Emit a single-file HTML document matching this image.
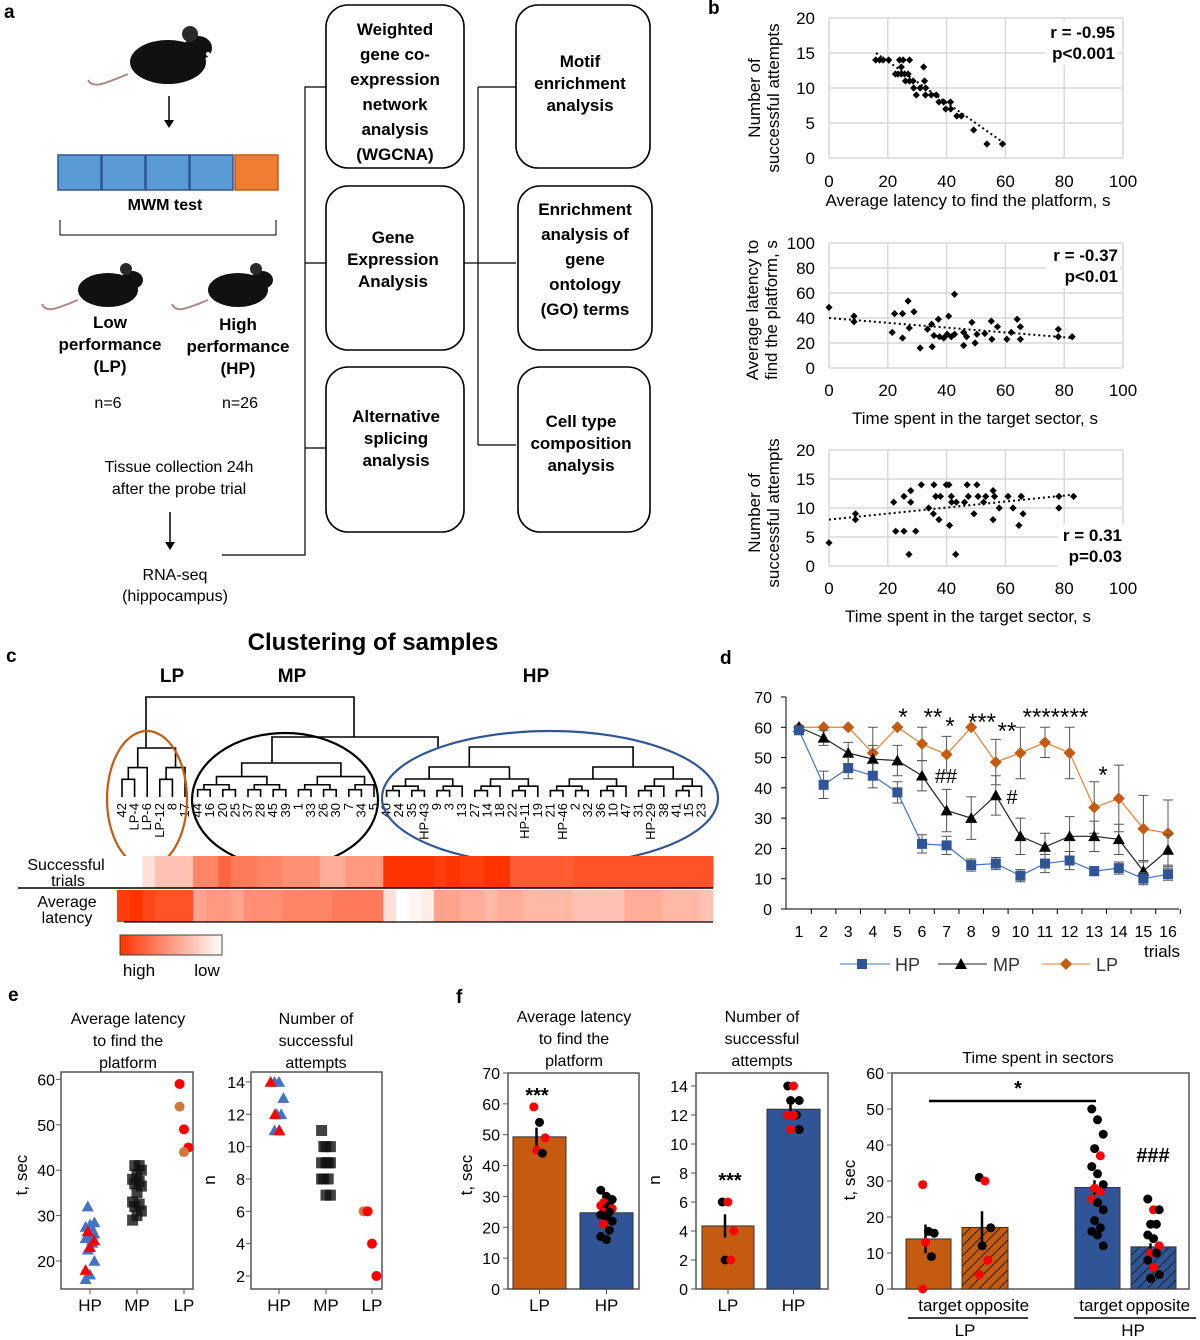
<!DOCTYPE html>
<html><head><meta charset="utf-8"><title>Figure</title>
<style>
html,body{margin:0;padding:0;background:#fff;}
svg{display:block;font-family:"Liberation Sans",Arial,sans-serif;}
.bx{fill:#fff;stroke:#000;stroke-width:1.6;}
.bt{font-size:17px;font-weight:bold;text-anchor:middle;}
.t16{font-size:16px;}
.t17{font-size:17px;}
.lbl{font-size:19px;font-weight:bold;}
</style></head>
<body>
<svg id="fig" width="1200" height="1340" viewBox="0 0 1200 1340" xmlns="http://www.w3.org/2000/svg">
<defs>
<pattern id="hatchO" patternUnits="userSpaceOnUse" width="7" height="7" patternTransform="rotate(45)"><rect width="7" height="7" fill="#c55a11"/><line x1="0" y1="0" x2="0" y2="7" stroke="#222" stroke-width="2"/></pattern>
<pattern id="hatchB" patternUnits="userSpaceOnUse" width="7" height="7" patternTransform="rotate(45)"><rect width="7" height="7" fill="#2f5597"/><line x1="0" y1="0" x2="0" y2="7" stroke="#222" stroke-width="2"/></pattern>
<linearGradient id="hm" x1="0" x2="1"><stop offset="0" stop-color="#ff3300"/><stop offset="1" stop-color="#ffffff"/></linearGradient>
</defs>

<!-- panel labels -->
<text x="4" y="18" class="lbl">a</text>
<text x="708" y="14" class="lbl">b</text>
<text x="6" y="662" class="lbl">c</text>
<text x="720" y="664" class="lbl">d</text>
<text x="8" y="1001" class="lbl">e</text>
<text x="456" y="1003" class="lbl">f</text>

<!-- panel a -->
<g transform="translate(168,62)">
<path d="M-40,12 C-60,20 -75,28 -80,18" fill="none" stroke="#b08a8a" stroke-width="2"/>
<ellipse cx="0" cy="0" rx="38" ry="22" fill="#111"/><ellipse cx="30" cy="-14" rx="14" ry="12" fill="#111"/><circle cx="22" cy="-28" r="8" fill="#2a2a2a"/><circle cx="40" cy="-8" r="2" fill="#fff"/>
</g>
<line x1="169" y1="96" x2="169" y2="124" stroke="#000" stroke-width="1.5"/>
<path d="M164,120 L169,128 L174,120 Z" fill="#000"/>
<g stroke="#2f5597" stroke-width="1.5">
<rect x="58" y="155" width="43" height="35" fill="#5b9bd5"/><rect x="102" y="155" width="43" height="35" fill="#5b9bd5"/><rect x="146" y="155" width="43" height="35" fill="#5b9bd5"/><rect x="190" y="155" width="43" height="35" fill="#5b9bd5"/><rect x="235" y="155" width="43" height="35" fill="#ed7d31" stroke="#c55a11"/>
</g>
<text x="165" y="210" class="t16" font-weight="bold" text-anchor="middle">MWM test</text>
<path d="M60,220 L60,235 L276,235 L276,220" fill="none" stroke="#000" stroke-width="1"/>
<g transform="translate(108,290)">
<path d="M-30,10 C-50,18 -62,24 -66,14" fill="none" stroke="#b08a8a" stroke-width="2"/>
<ellipse cx="0" cy="0" rx="30" ry="17" fill="#111"/><ellipse cx="24" cy="-10" rx="11" ry="9" fill="#111"/><circle cx="18" cy="-21" r="6" fill="#2a2a2a"/></g>
<g transform="translate(238,290)">
<path d="M-30,10 C-50,18 -62,24 -66,14" fill="none" stroke="#b08a8a" stroke-width="2"/>
<ellipse cx="0" cy="0" rx="30" ry="17" fill="#111"/><ellipse cx="24" cy="-10" rx="11" ry="9" fill="#111"/><circle cx="18" cy="-21" r="6" fill="#2a2a2a"/></g>
<g class="bt"><text x="110" y="328">Low</text><text x="110" y="350">performance</text><text x="110" y="372">(LP)</text></g>
<g class="bt"><text x="238" y="330">High</text><text x="238" y="352">performance</text><text x="238" y="374">(HP)</text></g>
<text x="108" y="408" class="t16" text-anchor="middle">n=6</text>
<text x="240" y="408" class="t16" text-anchor="middle">n=26</text>
<g class="t16" text-anchor="middle"><text x="179" y="472">Tissue collection 24h</text><text x="179" y="494">after the probe trial</text></g>
<line x1="170" y1="512" x2="170" y2="544" stroke="#000" stroke-width="1.5"/><path d="M165,542 L170,550 L175,542 Z" fill="#000"/>
<g class="t16" text-anchor="middle"><text x="175" y="580">RNA-seq</text><text x="175" y="601">(hippocampus)</text></g>
<g fill="none" stroke="#000" stroke-width="1.2">
<path d="M222,555 L305,555 L305,87 L326,87 M305,263 L326,263 M305,448 L326,448"/>
<path d="M464,263 L478,263 M478,87 L478,445 M478,87 L516,87 M478,263 L516,263 M478,445 L516,445"/>
</g>
<rect class="bx" x="326" y="5" width="138" height="163" rx="22"/>
<g class="bt"><text x="395" y="35">Weighted</text><text x="395" y="60">gene co-</text><text x="395" y="85">expression</text><text x="395" y="110">network</text><text x="395" y="135">analysis</text><text x="395" y="160">(WGCNA)</text></g>
<rect class="bx" x="326" y="186" width="138" height="164" rx="22"/>
<g class="bt"><text x="393" y="243">Gene</text><text x="393" y="265">Expression</text><text x="393" y="287">Analysis</text></g>
<rect class="bx" x="326" y="367" width="138" height="165" rx="22"/>
<g class="bt"><text x="396" y="422">Alternative</text><text x="396" y="444">splicing</text><text x="396" y="466">analysis</text></g>
<rect class="bx" x="516" y="5" width="134" height="163" rx="22"/>
<g class="bt"><text x="580" y="67">Motif</text><text x="580" y="89">enrichment</text><text x="580" y="111">analysis</text></g>
<rect class="bx" x="518" y="186" width="134" height="164" rx="22"/>
<g class="bt"><text x="585" y="215">Enrichment</text><text x="585" y="240">analysis of</text><text x="585" y="265">gene</text><text x="585" y="290">ontology</text><text x="585" y="315">(GO) terms</text></g>
<rect class="bx" x="518" y="367" width="132" height="165" rx="22"/>
<g class="bt"><text x="581" y="427">Cell type</text><text x="581" y="449">composition</text><text x="581" y="471">analysis</text></g>

<!-- panel b static text -->
<g class="t17" text-anchor="middle"><text transform="translate(760,98) rotate(-90)">Number of</text><text transform="translate(779,98) rotate(-90)">successful attempts</text></g>
<text x="968" y="206" class="t17" text-anchor="middle">Average latency to find the platform, s</text>
<g class="t17" text-anchor="middle"><text transform="translate(758,310) rotate(-90)">Average latency to</text><text transform="translate(777,310) rotate(-90)">find the platform, s</text></g>
<text x="975" y="424" class="t17" text-anchor="middle">Time spent in the target sector, s</text>
<g class="t17" text-anchor="middle"><text transform="translate(760,513) rotate(-90)">Number of</text><text transform="translate(779,513) rotate(-90)">successful attempts</text></g>
<text x="968" y="622" class="t17" text-anchor="middle">Time spent in the target sector, s</text>

<!-- panel c static -->
<text x="373" y="650" font-size="24" font-weight="bold" text-anchor="middle">Clustering of samples</text>
<text x="172" y="682" font-size="19" font-weight="bold" text-anchor="middle">LP</text>
<text x="292" y="682" font-size="19" font-weight="bold" text-anchor="middle">MP</text>
<text x="536" y="682" font-size="19" font-weight="bold" text-anchor="middle">HP</text>
<g id="dendro"></g>
<ellipse cx="147" cy="799" rx="40" ry="68" fill="none" stroke="#c55a11" stroke-width="2.2"/>
<ellipse cx="285" cy="800" rx="93" ry="67" fill="none" stroke="#000" stroke-width="2.2"/>
<ellipse cx="550" cy="798" rx="168" ry="67" fill="none" stroke="#2f5597" stroke-width="2.2"/>
<g id="heat"></g>
<g class="t16" text-anchor="middle"><text x="66" y="870">Successful</text><text x="68" y="886">trials</text><text x="67" y="907">Average</text><text x="67" y="923">latency</text></g>
<line x1="18" y1="888" x2="713" y2="888" stroke="#000" stroke-width="1.5"/>
<line x1="124" y1="922" x2="713" y2="922" stroke="#000" stroke-width="1.2"/>
<rect x="120" y="935" width="102" height="20" fill="url(#hm)" stroke="#444"/>
<text x="139" y="976" class="t17" text-anchor="middle">high</text>
<text x="207" y="976" class="t17" text-anchor="middle">low</text>

<!-- panel d static -->
<text x="1162" y="957" class="t17" text-anchor="middle">trials</text>
<g>
<line x1="840" y1="964" x2="890" y2="964" stroke="#4472c4"/><rect x="857" y="959" width="10" height="10" fill="#2f5597"/><text x="895" y="971" font-size="18" fill="#333">HP</text>
<line x1="938" y1="964" x2="987" y2="964" stroke="#222"/><path d="M961,958 L967,969 L955,969 Z" fill="#000"/><text x="993" y="971" font-size="18" fill="#333">MP</text>
<line x1="1042" y1="964" x2="1090" y2="964" stroke="#ed7d31"/><path d="M1066,958 L1072,964 L1066,970 L1060,964 Z" fill="#c55a11"/><text x="1096" y="971" font-size="18" fill="#333">LP</text>
</g>
<g font-size="24">
<text x="903" y="725" text-anchor="middle">*</text><text x="933" y="725" text-anchor="middle">**</text><text x="950" y="734" text-anchor="middle">*</text><text x="982" y="730" text-anchor="middle">***</text><text x="1007" y="739" text-anchor="middle">**</text><text x="1046" y="725" text-anchor="middle">*****</text><text x="1079" y="725" text-anchor="middle">**</text><text x="1103" y="783" text-anchor="middle">*</text>
<text x="946" y="783" text-anchor="middle" font-size="20">##</text><text x="1012" y="804" text-anchor="middle" font-size="20">#</text>
</g>

<!-- panel e/f titles -->
<g class="t16" text-anchor="middle"><text x="128" y="1024">Average latency</text><text x="128" y="1046">to find the</text><text x="128" y="1068">platform</text></g>
<g class="t16" text-anchor="middle"><text x="316" y="1024">Number of</text><text x="316" y="1046">successful</text><text x="316" y="1068">attempts</text></g>
<g class="t16" text-anchor="middle"><text x="574" y="1022">Average latency</text><text x="574" y="1044">to find the</text><text x="574" y="1066">platform</text></g>
<g class="t16" text-anchor="middle"><text x="762" y="1022">Number of</text><text x="762" y="1044">successful</text><text x="762" y="1066">attempts</text></g>
<text x="1038" y="1063" class="t16" text-anchor="middle">Time spent in sectors</text>
<text transform="translate(27,1175) rotate(-90)" class="t17" text-anchor="middle">t, sec</text>
<text transform="translate(215,1180) rotate(-90)" class="t17" text-anchor="middle">n</text>
<text transform="translate(472,1175) rotate(-90)" class="t17" text-anchor="middle">t, sec</text>
<text transform="translate(660,1180) rotate(-90)" class="t17" text-anchor="middle">n</text>
<text transform="translate(855,1180) rotate(-90)" class="t17" text-anchor="middle">t, sec</text>
<g font-size="20" font-weight="bold" text-anchor="middle">
<text x="537" y="1102">***</text><text x="730" y="1187">***</text><text x="1018" y="1095">*</text><text x="1153" y="1162">###</text></g>
<line x1="929" y1="1101" x2="1096" y2="1101" stroke="#000" stroke-width="2.5"/>
<g class="t17" text-anchor="middle">
<text x="940" y="1311">target</text><text x="997" y="1311">opposite</text><text x="1101" y="1311">target</text><text x="1158" y="1311">opposite</text>
<text x="965" y="1336">LP</text><text x="1133" y="1336">HP</text></g>
<line x1="908" y1="1318" x2="1028" y2="1318" stroke="#000" stroke-width="1.5"/>
<line x1="1074" y1="1318" x2="1196" y2="1318" stroke="#000" stroke-width="1.5"/>
</svg>

<script>
// ---------- data ----------
const b1Latency = [15.9,17.2,18.4,20.3,22.6,24,25.2,24.6,23.5,24.6,25.7,26.9,26,27.4,28.6,27.4,28.8,29.7,31,32.2,32.5,32.9,32.8,34.8,36.5,37.4,39,39.7,41.3,41.4,43.5,45,49.2,53.7,59];
const b1Attempts = [14,14,14,14,12,14,14,13,12,12,12,12,11,11,11,14,10,9,10,13,11,10,9,9,9,8,8,7,8,7,6,6,4,2,2];
const b1Trend = [[16,15],[60,2]];
const b2Time = [0,8.5,8.5,21.5,22.3,25,25,26.9,27.3,28.9,31,33.5,34.9,35.1,35.7,37.2,37.6,39,40.7,40.2,41.6,42.7,42.7,45.8,45.8,46.8,48.6,49.7,50.3,53,55.2,55.4,57.3,60.5,62,64,65.1,65.1,78,78,82.7];
const b2Latency = [48.5,41.5,37,28.5,43.5,43.5,24,53.6,32,45,16,31,35,17,26,39,25,24,41.5,27,25,59,27,18,28.5,25,36.5,20,27,27.6,37.5,23,33,23,28.5,39,33,23,31,25,25];
const b2Trend = [[0,40],[83,24]];
const b3Time = [0,9,9,22,22.7,25.5,25.5,27.2,27.8,27.8,29.5,31.4,33.9,35.5,35.7,36.3,37.9,37.4,39.9,40.8,41,41.6,41.7,43.3,43.1,46.1,47,47.4,49.3,50.3,50.7,52.6,53.3,55.8,55.8,56.3,57.9,60.9,62.6,64.6,65.4,66,78.2,78.2,83.2];
const b3Attempts = [4,9,8,11,6,6,12,2,13,11,6,14,10,9,14,12,12,8,14,14,7,12,11,11,2,11,14,12,9,14,12,11,12,13,8,12,10,12,10,7,12,9,12,10,12];
const b3Trend = [[0,8],[83,12.3]];
const bXTicks = [0,20,40,60,80,100];
const b1YTicks = [0,5,10,15,20];
const b2YTicks = [0,20,40,60,80,100];
const b3YTicks = [0,5,10,15,20];
const b1Stats = ["r = -0.95","p<0.001"];
const b2Stats = ["r = -0.37","p<0.01"];
const b3Stats = ["r = 0.31","p=0.03"];

const trials = [1,2,3,4,5,6,7,8,9,10,11,12,13,14,15,16];
const dHP = [59,41,46.5,44,38.5,21.5,21,14.5,15,11,15,16,12.5,13.5,10,11.5];
const dHPerr = [1,4.5,3.5,4,3.5,3,3,2,2,2,3,3,1.5,2,2,2];
const dMP = [60,56.5,51.5,49.5,49,44,32.5,30,37.5,24,20.5,24,24,23,12.5,19.5];
const dMPerr = [0.5,2.5,3.5,4.5,5,5,7,7,6.5,6,4.5,6.5,5,5,3.5,5];
const dLP = [60,60,60,51.5,60,54.5,51,60,48.5,51.5,55,51.5,33.5,36.5,26.5,25];
const dLPerr = [0,0,0,8.5,0,5.5,6,0,7.5,8.5,5,8.5,8.5,11,11,11];
const dYTicks = [0,10,20,30,40,50,60,70];

const leafLabels = ["42","LP-4","LP-6","LP-12","8","17","44","16","20","25","37","28","45","39","1","33","26","30","7","34","5","40","24","35","HP-43","9","3","13","27","14","18","22","HP-11","19","21","HP-46","2","32","36","10","47","31","HP-29","38","41","15","23"];
const heatTrials = [0,0,0.15,0.3,0.3,0.3, 0.6,0.6,0.75,0.65,0.65,0.6,0.6,0.55,0.55,0.55,0.4,0.4,0.5,0.5,0.5, 1,1,1,1,0.95,1,0.95,0.95,1,1,0.8,0.8,0.8,0.8,0.8,0.85,0.85,0.85,0.85,0.85,0.85,0.85,0.85,0.85,0.85,0.85];
const heatLatency = [0.95,1,0.9,0.85,0.85,0.85, 0.45,0.5,0.5,0.45,0.55,0.55,0.55,0.6,0.6,0.6,0.6,0.65,0.65,0.65,0.65, 0.15,0,0.05,0.1,0.45,0.45,0.4,0.4,0.35,0.4,0.4,0.35,0.35,0.35,0.35,0.3,0.3,0.3,0.3,0.4,0.4,0.4,0.35,0.35,0.35,0.3];

const eCats = ["HP","MP","LP"];
const e1HP = [16,17,20,22.5,24,25,25.5,26,26.5,27,27.5,28,28.5,32,24.5];
const e1HPred = [18,23,24.5,26.5];
const e1MP = [29,30,31,32,32.5,33,35,36.5,37,37.5,38,39,40,41,41];
const e1LPred = [59,49,45];
const e1LPorange = [54,44];
const e1YTicks = [20,30,40,50,60];
const e2HP = [14,14,13,12,12,11,11];
const e2HPred = [14,12,11];
const e2MP = [11,10,10,10,9,9,9,9,8,8,8,7,7];
const e2LPred = [6,4,2];
const e2LPorange = [6];
const e2YTicks = [2,4,6,8,10,12,14];

const f1Cats = ["LP","HP"];
const f1Means = [49.3,24.7];
const f1Err = [3,1.2];
const f1LPdots = [59,54,49,45,44];
const f1LPred = [true,false,true,true,false];
const f1HPdots = [32,30,29,28,27,27,26,26,25,25,24,23,22,21,19,17,16];
const f1HPred = [false,false,false,true,false,true,false,true,true,false,false,false,false,true,false,false,false];
const f1YTicks = [0,10,20,30,40,50,60,70];
const f2Means = [4.35,12.4];
const f2Err = [0.8,0.3];
const f2LPdots = [6,6,4,2,2];
const f2LPred = [false,true,true,false,true];
const f2HPdots = [14,14,13,13,12,12,12,11,11];
const f2HPred = [false,true,false,false,false,true,true,false,true];
const f2YTicks = [0,2,4,6,8,10,12,14];
const f3Cats = ["LP target","LP opposite","HP target","HP opposite"];
const f3Means = [13.9,17.1,28.2,11.7];
const f3Err = [4,4.5,2,1];
const f3LPt = [29,16,15.5,13,9,0];
const f3LPtRed = [true,false,false,true,false,true];
const f3LPo = [31,30,17,12,8,4];
const f3LPoRed = [false,true,false,false,true,true];
const f3HPt = [50,47,43,39,37,34,32,29,28,27,25,24,22,19,17,16,15,12];
const f3HPtRed = [false,false,false,false,true,false,false,false,true,true,true,false,false,false,false,false,false,false];
const f3HPo = [25,22,22,18,18,15,14,12,10,10,8,6,4,3];
const f3HPoRed = [false,true,false,false,false,false,false,true,true,false,false,true,false,false];
const f3YTicks = [0,10,20,30,40,50,60];

// ---------- helpers ----------
const NS = "http://www.w3.org/2000/svg";
const svg = document.getElementById('fig');
function mk(tag, attrs, parent) {
  const e = document.createElementNS(NS, tag);
  for (const k in attrs) e.setAttribute(k, attrs[k]);
  (parent || svg).appendChild(e);
  return e;
}
function txt(s, attrs, parent) { const t = mk('text', attrs, parent); t.textContent = s; return t; }
function diamond(cx, cy, r) { return `M${cx},${cy-r} L${cx+r},${cy} L${cx},${cy+r} L${cx-r},${cy} Z`; }
function tri(cx, cy, r) { return `M${cx},${cy-r} L${cx+r},${cy+r*0.8} L${cx-r},${cy+r*0.8} Z`; }

// ---------- panel b ----------
const bx = v => 829 + v * 2.94;
function scatterPanel(name, yFn, yTicks, xs, ys, trend, top, bottom, xTickY, stats, statX, statY, statW) {
  const g = mk('g', {});
  
  
  bXTicks.forEach(t => {
    const l = mk('line', {x1: bx(t), x2: bx(t), y1: top, y2: bottom, stroke: '#d9d9d9', 'stroke-width': 1.5}, g);
    
    
    const tl = txt(String(t), {x: bx(t), y: xTickY, 'font-size': 17, 'text-anchor': 'middle'}, g);
    
    
  });
  yTicks.forEach(t => {
    const l = mk('line', {x1: bx(0), x2: bx(100), y1: yFn(t), y2: yFn(t), stroke: '#d9d9d9', 'stroke-width': 1.5}, g);
    
    
    const tl = txt(String(t), {x: 815, y: yFn(t) + 6, 'font-size': 17, 'text-anchor': 'end'}, g);
    
    
  });
  const bg = mk('rect', {x: statX - statW, y: statY - 17, width: statW + 2, height: 44, fill: '#fff'}, g);
  
  
  stats.forEach((s, i) => {
    const st = txt(s, {x: statX, y: statY + i * 21, 'font-size': 17, 'font-weight': 'bold', 'text-anchor': 'end'}, g);
    
    
  });
  const tr = mk('line', {x1: bx(trend[0][0]), y1: yFn(trend[0][1]), x2: bx(trend[1][0]), y2: yFn(trend[1][1]), stroke: '#000', 'stroke-width': 2, 'stroke-dasharray': '2,3'}, g);
  
  
  xs.forEach((x, i) => {
    const p = mk('path', {d: diamond(bx(x), yFn(ys[i]), 3.6), fill: '#000'}, g);
    
    
  });
}
scatterPanel('scatter-b1', v => 158 - v * 7, b1YTicks, b1Latency, b1Attempts, b1Trend, 18, 158, 187, b1Stats, 1115, 38, 70);
scatterPanel('scatter-b2', v => 368 - v * 1.25, b2YTicks, b2Time, b2Latency, b2Trend, 243, 368, 396, b2Stats, 1118, 261, 72);
scatterPanel('scatter-b3', v => 566 - v * 5.8, b3YTicks, b3Time, b3Attempts, b3Trend, 450, 566, 594, b3Stats, 1122, 541, 64);

// ---------- panel c dendrogram ----------
const dg = document.getElementById('dendro');
const leafX = i => 122 + i * 12.6;
const leafY = 797;
function seg(d) {
  const p = mk('path', {d: d, fill: 'none', stroke: '#000', 'stroke-width': 1.6}, dg);
  
  
}
function tree(lo, hi, y) {
  if (lo === hi) return leafX(lo);
  const mid = Math.floor((lo + hi) / 2);
  const cy = y + (leafY - y) * 0.4;
  const yl = lo === mid ? leafY : cy, yr = mid + 1 === hi ? leafY : cy;
  const xl = tree(lo, mid, yl);
  const xr = tree(mid + 1, hi, yr);
  seg(`M${xl},${yl} L${xl},${y} L${xr},${y} L${xr},${yr}`);
  return (xl + xr) / 2;
}
tree(0, 5, 748);
tree(6, 20, 763);
tree(21, 46, 747);
seg(`M272,763 L272,737 L438,737 L438,747`);
seg(`M146,748 L146,697 L354,697 L354,737`);
leafLabels.forEach((s, i) => {
  const t = txt(s, {'font-size': 13, 'text-anchor': 'end', transform: `translate(${leafX(i) + 4},803) rotate(-90)`}, dg);
  
  
});
// heatmap
const hg = document.getElementById('heat');
const cw = (713 - 117) / heatTrials.length;
function heatColor(v) {
  const r = 255, g = Math.round(255 - v * (255 - 51)), b = Math.round(255 - v * 255);
  return `rgb(${r},${g},${b})`;
}
heatTrials.forEach((v, i) => {
  const r = mk('rect', {x: 117 + i * cw, y: 856, width: cw + 0.5, height: 32, fill: heatColor(v)}, hg);
  
  
});
heatLatency.forEach((v, i) => {
  const r = mk('rect', {x: 117 + i * cw, y: 890, width: cw + 0.5, height: 32, fill: heatColor(v)}, hg);
  
  
});

// ---------- panel d ----------
const dx = t => 799 + (t - 1) * 24.6;
const dy = v => 909 - v * 3.029;
const dAxis = mk('path', {d: `M786,697 L786,909 L1179,909`, fill: 'none', stroke: '#000', 'stroke-width': 1});


dYTicks.forEach(t => {
  const l = mk('line', {x1: 781, x2: 786, y1: dy(t), y2: dy(t), stroke: '#000'});
  
  
  const tl = txt(String(t), {x: 772, y: dy(t) + 6, 'font-size': 16, 'text-anchor': 'end'});
  
  
});
trials.forEach(t => {
  const l = mk('line', {x1: dx(t) + 12.3, x2: dx(t) + 12.3, y1: 909, y2: 914, stroke: '#000'});
  
  
  const tl = txt(String(t), {x: dx(t), y: 937, 'font-size': 16, 'text-anchor': 'middle'});
  
  
});
function dSeries(name, vals, errs, color, marker) {
  const g = mk('g', {});
  
  
  vals.forEach((v, i) => {
    const x = dx(trials[i]);
    const e = mk('path', {d: `M${x},${dy(v - errs[i])} L${x},${dy(v + errs[i])} M${x - 5},${dy(v - errs[i])} L${x + 5},${dy(v - errs[i])} M${x - 5},${dy(v + errs[i])} L${x + 5},${dy(v + errs[i])}`, stroke: '#555', 'stroke-width': 1, fill: 'none'}, g);
    
    
  });
  const pl = mk('polyline', {points: vals.map((v, i) => `${dx(trials[i])},${dy(v)}`).join(' '), fill: 'none', stroke: color, 'stroke-width': 1.2}, g);
  
  
  vals.forEach((v, i) => {
    const x = dx(trials[i]), y = dy(v);
    let m;
    if (marker === 'sq') m = mk('rect', {x: x - 5, y: y - 5, width: 10, height: 10, fill: '#2f5597'}, g);
    else if (marker === 'tri') m = mk('path', {d: tri(x, y, 6), fill: '#000'}, g);
    else m = mk('path', {d: diamond(x, y, 6), fill: '#c55a11'}, g);
    
    
  });
}
dSeries('series-lp', dLP, dLPerr, '#ed7d31', 'dia');
dSeries('series-mp', dMP, dMPerr, '#222', 'tri');
dSeries('series-hp', dHP, dHPerr, '#4472c4', 'sq');

// ---------- panel e ----------
function frame(name, x0, x1, top, bottom, yFn, ticks, tickLabelX) {
  const r = mk('rect', {x: x0, y: top, width: x1 - x0, height: bottom - top, fill: 'none', stroke: '#555', 'stroke-width': 1.5});
  
  
  ticks.forEach(t => {
    const l = mk('line', {x1: x0 - 5, x2: x0, y1: yFn(t), y2: yFn(t), stroke: '#555'});
    
    
    const tl = txt(String(t), {x: tickLabelX, y: yFn(t) + 6, 'font-size': 16, 'text-anchor': 'end'});
    
    
  });
}
function catLabel(s, x) {
  const l = mk('line', {x1: x, x2: x, y1: 1289, y2: 1294, stroke: '#555'});
  
  
  const t = txt(s, {x: x, y: 1311, 'font-size': 17, 'text-anchor': 'middle'});
  
  
}
const e1y = v => 1261 - (v - 20) * 4.54;
const e2y = v => 1276 - (v - 2) * 16.17;
const e1x = [90, 137, 184];
const e2x = [279, 326, 372];
frame('e1-frame', 61, 193, 1072, 1289, e1y, e1YTicks, 55);
frame('e2-frame', 251, 382, 1072, 1289, e2y, e2YTicks, 245);
eCats.forEach((c, i) => { catLabel(c, e1x[i]); catLabel(c, e2x[i]); });
function jit(i) { return ((i * 7) % 5 - 2) * 2.2; }
function eMarks(vals, x, y, kind, color) {
  vals.forEach((v, i) => {
    const cx = x + jit(i), cy = y(v);
    let m;
    if (kind === 'tri') m = mk('path', {d: tri(cx, cy, 6), fill: color});
    else if (kind === 'sq') m = mk('rect', {x: cx - 5.5, y: cy - 5.5, width: 11, height: 11, fill: color, 'fill-opacity': 0.8});
    else m = mk('circle', {cx: cx, cy: cy, r: 5, fill: color});
    
    
  });
}
eMarks(e1HP, e1x[0], e1y, 'tri', '#4472c4');
eMarks(e1HPred, e1x[0], e1y, 'tri', '#ff0000');
eMarks(e1MP, e1x[1], e1y, 'sq', '#111');
eMarks(e1LPred, e1x[2], e1y, 'dot', '#ff0000');
eMarks(e1LPorange, e1x[2], e1y, 'dot', '#d07a3a');
eMarks(e2HP, e2x[0], e2y, 'tri', '#4472c4');
eMarks(e2HPred, e2x[0] - 4, e2y, 'tri', '#ff0000');
eMarks(e2MP, e2x[1], e2y, 'sq', '#111');
eMarks(e2LPorange, e2x[2] - 4, e2y, 'dot', '#d07a3a');
eMarks(e2LPred, e2x[2], e2y, 'dot', '#ff0000');

// ---------- panel f ----------
const f1y = v => 1289 - v * 3.086;
const f2y = v => 1289 - v * 14.5;
const f3y = v => 1289 - v * 3.6;
frame('f1-frame', 508, 639, 1073, 1289, f1y, f1YTicks, 500);
frame('f2-frame', 696, 828, 1073, 1289, f2y, f2YTicks, 688);
frame('f3-frame', 892, 1189, 1073, 1289, f3y, f3YTicks, 884);
function bar(name, x0, w, mean, err, yFn, fill) {
  const r = mk('rect', {x: x0, y: yFn(mean), width: w, height: 1289 - yFn(mean), fill: fill, stroke: '#333', 'stroke-width': 1});
  
  
  const cx = x0 + w / 2;
  const e = mk('line', {x1: cx - 3, x2: cx - 3, y1: yFn(mean - err), y2: yFn(mean + err), stroke: '#000', 'stroke-width': 2.5});
  
  
  return cx;
}
function dots(vals, reds, cx, yFn) {
  vals.forEach((v, i) => {
    const c = mk('circle', {cx: cx + jit(i) * 1.3, cy: yFn(v), r: 4.5, fill: reds[i] ? '#ff0000' : '#000'});
    
    
  });
}
const f1c0 = bar('f1-bar-lp', 513, 53, f1Means[0], f1Err[0], f1y, '#c55a11');
const f1c1 = bar('f1-bar-hp', 580, 53, f1Means[1], f1Err[1], f1y, '#2f5597');
dots(f1LPdots, f1LPred, f1c0, f1y);
dots(f1HPdots, f1HPred, f1c1, f1y);
catLabel(f1Cats[0], f1c0); catLabel(f1Cats[1], f1c1);
const f2c0 = bar('f2-bar-lp', 702, 52, f2Means[0], f2Err[0], f2y, '#c55a11');
const f2c1 = bar('f2-bar-hp', 767, 53, f2Means[1], f2Err[1], f2y, '#2f5597');
dots(f2LPdots, f2LPred, f2c0, f2y);
dots(f2HPdots, f2HPred, f2c1, f2y);
catLabel(f1Cats[0], f2c0); catLabel(f1Cats[1], f2c1);
const f3c0 = bar('f3-bar-lp-target', 906, 45, f3Means[0], f3Err[0], f3y, '#c55a11');
const f3c1 = bar('f3-bar-lp-opposite', 962, 46, f3Means[1], f3Err[1], f3y, 'url(#hatchO)');
const f3c2 = bar('f3-bar-hp-target', 1075, 45, f3Means[2], f3Err[2], f3y, '#2f5597');
const f3c3 = bar('f3-bar-hp-opposite', 1131, 45, f3Means[3], f3Err[3], f3y, 'url(#hatchB)');
dots(f3LPt, f3LPtRed, f3c0, f3y);
dots(f3LPo, f3LPoRed, f3c1, f3y);
dots(f3HPt, f3HPtRed, f3c2, f3y);
dots(f3HPo, f3HPoRed, f3c3, f3y);
</script>
</body></html>
